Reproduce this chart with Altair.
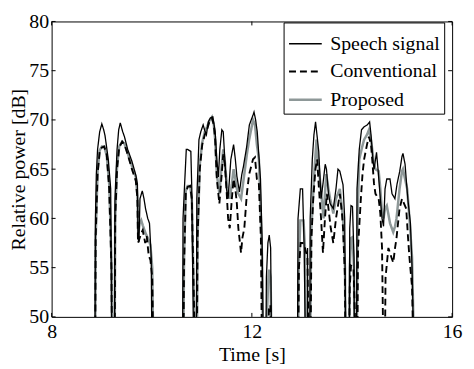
import altair as alt
import pandas as pd

series_names = ["Speech signal", "Conventional", "Proposed"]
series_colors = ["#000000", "#000000", "#8e9898"]

speech_t = [8.0, 8.865, 8.875, 8.893, 8.918, 8.96, 9.003, 9.04, 9.067, 9.132, 9.18, 9.205,
            9.255, 9.265, 9.307, 9.34, 9.371, 9.42, 9.455, 9.52, 9.604, 9.682, 9.714, 9.725,
            9.746, 9.765, 9.811, 9.845, 9.876, 9.92, 9.955, 9.99, 10.005,
            10.615, 10.625, 10.652, 10.69, 10.717, 10.781, 10.80, 10.84,
            10.89, 10.90, 10.943, 10.98, 11.027, 11.06, 11.092, 11.13, 11.170, 11.221, 11.267,
            11.30, 11.331, 11.36, 11.40, 11.428, 11.46, 11.493, 11.525, 11.58, 11.635, 11.67,
            11.700, 11.752, 11.80, 11.829, 11.894, 11.95, 12.023, 12.043, 12.075, 12.107,
            12.172, 12.204, 12.232,
            12.278, 12.29, 12.32, 12.347, 12.375, 12.398,
            12.91, 12.922, 12.968, 13.013, 13.045, 13.075,
            13.108, 13.112, 13.118,
            13.155, 13.165, 13.207, 13.24, 13.272, 13.30, 13.336, 13.382, 13.42, 13.465, 13.49,
            13.53, 13.563, 13.627, 13.68, 13.72, 13.757, 13.821, 13.854, 13.88,
            13.945, 13.955, 13.98, 14.01, 14.04, 14.05,
            14.09, 14.10, 14.145, 14.19, 14.242, 14.307, 14.352, 14.38, 14.417, 14.44, 14.456,
            14.49, 14.52, 14.566, 14.60, 14.630, 14.66, 14.695, 14.759, 14.80, 14.857, 14.90,
            14.954, 14.999, 15.018, 15.06, 15.083, 15.115, 15.167, 15.20, 15.24, 16.0]
speech_db = [45, 45, 60, 64.5, 67, 68.8, 69.6, 69, 68.4, 66, 63, 45,
             45, 62, 67, 69, 69.7, 68.8, 68.3, 67, 65.8, 64.4, 63.5, 58,
             57.8, 62, 62.8, 62, 61, 60, 59.5, 56, 45,
             45, 60, 63, 67, 67, 66.8, 63, 45,
             45, 62, 68, 68.8, 69.5, 68.9, 68.5, 69.8, 70.2, 70.3, 68.8,
             66, 64.2, 67, 69, 68.8, 66, 63, 62, 66, 67.5, 66,
             64.3, 62.7, 64.5, 65.2, 67.2, 69.5, 70.5, 70.8, 70, 68.8,
             64, 58, 45,
             45, 54, 57.5, 58.3, 57, 45,
             45, 60, 63, 63, 57, 45,
             45, 57, 45,
             45, 60, 66, 68.5, 69.8, 68.5, 66.8, 62, 63.5, 65.5, 65,
             62.5, 61.5, 61, 63, 65, 64.8, 63.4, 60, 45,
             45, 59, 61.3, 61.2, 56, 45,
             45, 63, 67, 69, 69.3, 69.5, 69.8, 68.5, 66, 65, 65.5,
             66.7, 65, 62, 60, 59.2, 63, 64, 64, 62.5, 62, 63.5,
             64.8, 66.3, 66.6, 65.5, 64, 62, 59.5, 55, 45, 45]

conv_t = [8.0, 8.870, 8.880, 8.918, 8.96, 9.003, 9.05, 9.10, 9.15, 9.195, 9.208,
          9.258, 9.27, 9.307, 9.35, 9.41, 9.455, 9.52, 9.604, 9.682, 9.714, 9.725, 9.746,
          9.79, 9.82, 9.87, 9.90, 9.94, 9.973, 10.01, 10.035,
          10.63, 10.645, 10.68, 10.717, 10.768, 10.80, 10.87,
          10.90, 10.915, 10.96, 11.008, 11.06, 11.105, 11.15, 11.202, 11.24, 11.267, 11.30,
          11.351, 11.39, 11.428, 11.46, 11.493, 11.525, 11.558, 11.60, 11.635, 11.67, 11.700,
          11.73, 11.784, 11.81, 11.849, 11.90, 11.946, 12.023, 12.062, 12.10, 12.140, 12.18,
          12.204,
          12.33, 12.34, 12.37, 12.38,
          12.925, 12.94, 12.975, 13.013, 13.06, 13.11, 13.14,
          13.17, 13.19, 13.226, 13.27, 13.304, 13.34, 13.382, 13.420, 13.46, 13.498, 13.53,
          13.576, 13.627, 13.68, 13.757, 13.80, 13.821, 13.86, 13.87,
          13.94, 13.955, 13.98, 14.03, 14.06, 14.067,
          14.105, 14.12, 14.177, 14.21, 14.242, 14.30, 14.339, 14.38, 14.404, 14.44, 14.469,
          14.533, 14.566, 14.60, 14.630,
          14.655, 14.67, 14.727, 14.79, 14.824, 14.86, 14.889, 14.95, 14.999, 15.04, 15.083,
          15.12, 15.148, 15.20, 15.232, 16.0]
conv_db = [45, 45, 58, 64.5, 66.8, 67.2, 67.3, 66.5, 63, 55, 45,
           45, 60, 65, 67.2, 67.8, 67.5, 66.5, 65, 63.8, 62, 57.5, 57.8,
           58.5, 58.8, 57.5, 58.2, 56.2, 55.8, 54, 45,
           45, 55, 62.5, 63.2, 63.3, 62, 45,
           45, 58, 65, 67.5, 68.5, 69, 69.8, 70.2, 69.5, 68, 64,
           61.5, 64, 66.5, 65.5, 63, 60, 59, 62, 64, 63, 61.5,
           59, 56.5, 58, 59, 62.5, 64.5, 66, 66.2, 64, 63.5, 58,
           45,
           45, 50.8, 51.2, 45,
           45, 55, 57.5, 57.5, 57, 56, 45,
           45, 58, 62, 65, 66, 63, 60, 56.5, 60, 62.5, 61,
           59, 57.5, 60, 62.5, 60.5, 59, 54, 45,
           45, 53, 55.2, 55, 50, 45,
           45, 57, 62, 64.5, 66, 67.5, 68.3, 67.5, 66, 63.5, 62.5,
           62, 60.5, 57, 45,
           45, 54, 57, 56, 55.5, 57, 58, 61, 62, 61.5, 61,
           58, 56, 53, 45, 45]

prop_t = [8.0, 8.868, 8.880, 8.918, 8.96, 9.003, 9.05, 9.10, 9.15, 9.20, 9.208,
          9.258, 9.27, 9.307, 9.35, 9.41, 9.455, 9.52, 9.604, 9.682, 9.714, 9.73, 9.76,
          9.79, 9.82, 9.876, 9.94, 9.973, 10.01, 10.035,
          10.63, 10.645, 10.68, 10.717, 10.768, 10.80, 10.87,
          10.90, 10.915, 10.96, 11.008, 11.06, 11.105, 11.15, 11.202, 11.24, 11.267, 11.30,
          11.351, 11.39, 11.428, 11.46, 11.493, 11.525, 11.558, 11.60, 11.635, 11.67, 11.700,
          11.73, 11.784, 11.81, 11.849, 11.90, 11.946, 12.023, 12.062, 12.10, 12.140, 12.18,
          12.204, 12.224,
          12.29, 12.30, 12.33, 12.347, 12.375, 12.395,
          12.92, 12.935, 12.968, 13.032, 13.06, 13.078,
          13.165, 13.18, 13.239, 13.291, 13.32, 13.369, 13.433, 13.46, 13.485, 13.53, 13.563,
          13.627, 13.68, 13.757, 13.80, 13.821, 13.86, 13.873,
          13.945, 13.955, 13.98, 14.01, 14.04, 14.05,
          14.095, 14.11, 14.145, 14.20, 14.242, 14.30, 14.339, 14.38, 14.404, 14.44, 14.469,
          14.533, 14.566, 14.60, 14.630, 14.66, 14.695, 14.76, 14.824, 14.86, 14.889, 14.95,
          14.999, 15.018, 15.06, 15.102, 15.148, 15.20, 15.245, 16.0]
prop_db = [45, 45, 58, 64.8, 66.9, 67.3, 67.3, 66.4, 63.5, 55, 45,
           45, 60, 65.3, 67.3, 67.8, 67.6, 66.6, 65.3, 64.2, 62.3, 58.5, 59.5,
           59.8, 59.3, 58.5, 57.8, 57.3, 55, 45,
           45, 56, 62.8, 63.3, 63.3, 62, 45,
           45, 58, 65.5, 67.7, 68.8, 69.3, 69.9, 70.3, 69.5, 68, 64.5,
           62.5, 65, 67, 65.8, 63.8, 62.5, 62, 63.5, 65, 64, 63,
           62.5, 62, 63, 64.5, 66.5, 68, 70, 69.5, 67.5, 66, 60,
           56, 45,
           45, 50, 54, 54.8, 54, 45,
           45, 55, 59.8, 59.8, 57, 45,
           45, 58, 64, 68, 66, 63.5, 60, 62.5, 64.5, 63, 62,
           60.5, 62, 63, 61, 60, 55, 45,
           45, 55, 58, 58.1, 55, 45,
           45, 60, 66, 67.2, 68, 68.5, 69, 68, 67, 65.5, 65,
           64.8, 63, 60.5, 60, 61, 61.3, 59.5, 58.6, 59.2, 60, 63,
           64.8, 65, 64, 63, 60, 56, 45, 45]

x_ticks = [8, 12, 16]
y_ticks = [50, 55, 60, 65, 70, 75, 80]

rows = []
for name, ts, ds in [("Proposed", prop_t, prop_db),
                     ("Conventional", conv_t, conv_db),
                     ("Speech signal", speech_t, speech_db)]:
    for t, d in zip(ts, ds):
        rows.append({"series": name, "t": t, "db": d})
df = pd.DataFrame(rows)

W, H = 404, 298
FONT = "Liberation Serif"
xscale = alt.Scale(domain=[8, 16], nice=False, zero=False)
yscale = alt.Scale(domain=[50, 80], nice=False, zero=False)
xaxis = alt.Axis(values=x_ticks, title="Time [s]", labelFlush=False, labelPadding=5,
                 titlePadding=3, format="d")
yaxis = alt.Axis(values=y_ticks, title="Relative power [dB]", labelFlush=False,
                 labelPadding=3, titlePadding=0, format="d")

leg = alt.Legend(title=None, orient="none", legendX=234, legendY=1,
                 symbolSize=1089, symbolType="stroke",
                 labelFont=FONT, labelFontSize=20, labelColor="black",
                 labelOffset=7, rowPadding=0, padding=4,
                 strokeColor="black", fillColor="white")

lines = alt.Chart(df).mark_line(clip=True).encode(
    x=alt.X("t:Q", scale=xscale, axis=xaxis),
    y=alt.Y("db:Q", scale=yscale, axis=yaxis),
    color=alt.Color("series:N", scale=alt.Scale(domain=series_names, range=series_colors),
                    legend=leg),
    strokeDash=alt.StrokeDash("series:N",
                              scale=alt.Scale(domain=series_names, range=[[1, 0], [7, 4], [1, 0]]),
                              legend=leg),
    strokeWidth=alt.StrokeWidth("series:N",
                                scale=alt.Scale(domain=series_names, range=[1.3, 2.5, 1.3]),
                                legend=leg),
)

ytick_df = pd.DataFrame({"v": y_ticks})
xtick_df = pd.DataFrame({"v": x_ticks})
yl = alt.Chart(ytick_df).mark_rule(color="black").encode(
    y=alt.Y("v:Q", scale=yscale, axis=yaxis), x=alt.value(0), x2=alt.value(4))
yr = alt.Chart(ytick_df).mark_rule(color="black").encode(
    y=alt.Y("v:Q", scale=yscale, axis=yaxis), x=alt.value(W - 4), x2=alt.value(W))
xb = alt.Chart(xtick_df).mark_rule(color="black").encode(
    x=alt.X("v:Q", scale=xscale, axis=xaxis), y=alt.value(H), y2=alt.value(H - 4))
xt = alt.Chart(xtick_df).mark_rule(color="black").encode(
    x=alt.X("v:Q", scale=xscale, axis=xaxis), y=alt.value(0), y2=alt.value(4))

chart = alt.layer(lines, yl, yr, xb, xt).properties(
    width=W, height=H,
    padding={"left": 44, "top": 12, "right": 14, "bottom": 51},
    autosize=alt.AutoSizeParams(type="none"),
    background="white",
).configure_view(stroke="black", strokeWidth=1).configure_axis(
    domain=False, ticks=False, grid=False,
    labelFont=FONT, labelFontSize=20, labelColor="black",
    titleFont=FONT, titleFontSize=20, titleFontWeight="normal", titleColor="black",
)

chart.save("out.html", embed_options={"renderer": "svg", "actions": False})
